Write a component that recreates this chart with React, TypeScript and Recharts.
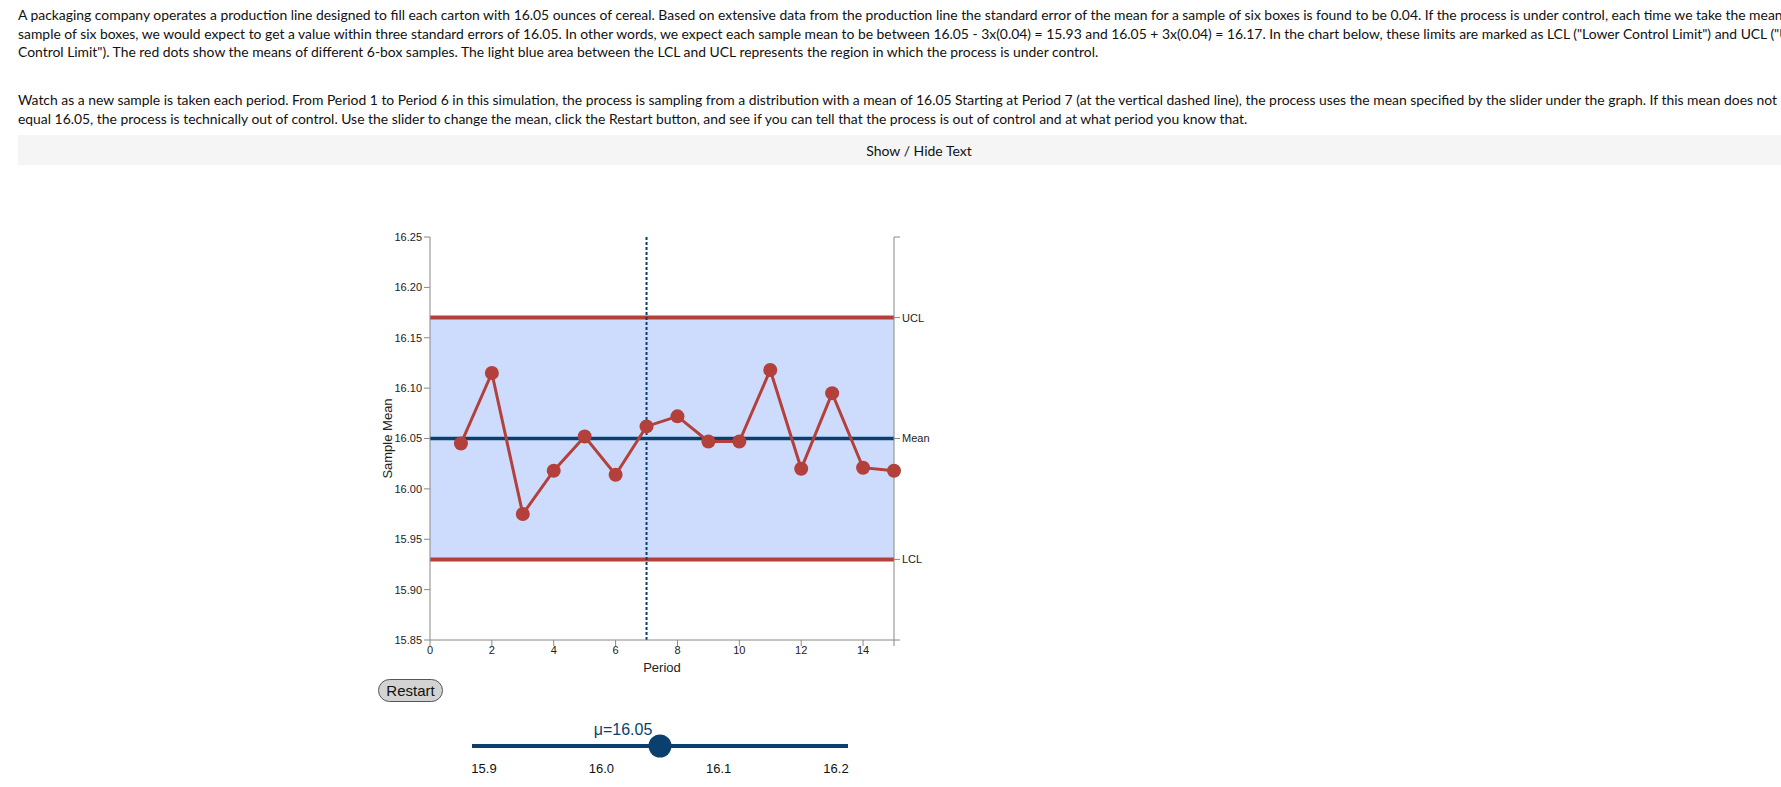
import React from 'react'
import {
  ComposedChart, Line, XAxis, YAxis, ReferenceArea, ReferenceLine,
} from 'recharts'

// periods and the sample means
const periods = [1, 2, 3, 4, 5, 6, 7, 8, 9, 10, 11, 12, 13, 14, 15]
const sampleMeans = [
  16.045, 16.115, 15.975, 16.018, 16.052, 16.014, 16.062, 16.072,
  16.047, 16.047, 16.118, 16.020, 16.095, 16.021, 16.018,
]
const xTicks = [0, 2, 4, 6, 8, 10, 12, 14, 15]
const yTicks = [15.85, 15.9, 15.95, 16.0, 16.05, 16.1, 16.15, 16.2, 16.25]
const limitNames = ['LCL', 'Mean', 'UCL']
const limitValues = [15.93, 16.05, 16.17]
const shiftPeriod = 7
const sliderTicks = [15.9, 16.0, 16.1, 16.2]
const sliderValue = 16.05

const RED = '#b3403b'
const NAVY = '#0b3f6e'
const AXIS = '#888'

const textLines1 = [
  'A packaging company operates a production line designed to fill each carton with 16.05 ounces of cereal. Based on extensive data from the production line the standard error of the mean for a sample of six boxes is found to be 0.04. If the process is under control, each time we take the mean of a',
  'sample of six boxes, we would expect to get a value within three standard errors of 16.05. In other words, we expect each sample mean to be between 16.05 - 3x(0.04) = 15.93 and 16.05 + 3x(0.04) = 16.17. In the chart below, these limits are marked as LCL ("Lower Control Limit") and UCL ("Upper',
  'Control Limit"). The red dots show the means of different 6-box samples. The light blue area between the LCL and UCL represents the region in which the process is under control.',
]
const textLines2 = [
  'Watch as a new sample is taken each period. From Period 1 to Period 6 in this simulation, the process is sampling from a distribution with a mean of 16.05 Starting at Period 7 (at the vertical dashed line), the process uses the mean specified by the slider under the graph. If this mean does not',
  'equal 16.05, the process is technically out of control. Use the slider to change the mean, click the Restart button, and see if you can tell that the process is out of control and at what period you know that.',
]

const data = periods.map((p, i) => ({ period: p, mean: sampleMeans[i] }))

const tickStyle = { fontSize: 11, fontFamily: 'Liberation Sans, Arial', fill: '#222' }

function Slider() {
  // slider geometry (ui widget, not chart data)
  const x0 = 484, x1 = 836
  const sx = (v: number) =>
    x0 + ((v - sliderTicks[0]) / (sliderTicks[sliderTicks.length - 1] - sliderTicks[0])) * (x1 - x0)
  return (
    <svg width={1781} height={787} style={{ position: 'absolute', left: 0, top: 0, pointerEvents: 'none' }}>
      <text x={623} y={735} textAnchor="middle" fontSize={16} fill={NAVY}
        fontFamily="Liberation Sans, Arial">μ={sliderValue.toFixed(2)}</text>
      <line x1={x0 - 12} x2={x1 + 12} y1={746} y2={746} stroke={NAVY} strokeWidth={4} />
      <circle cx={sx(sliderValue)} cy={746} r={11.5} fill={NAVY} />
      {sliderTicks.map(t => (
        <text key={t} x={sx(t)} y={773} textAnchor="middle" fontSize={13}
          fontFamily="Liberation Sans, Arial" fill="#111">{t.toFixed(1)}</text>
      ))}
    </svg>
  )
}

export default function App() {
  const para: React.CSSProperties = {
    position: 'absolute', left: 18, whiteSpace: 'nowrap',
    fontFamily: 'Lato, sans-serif', fontSize: 13.9, lineHeight: '18.7px', color: '#111',
  }
  return (
    <div style={{ position: 'absolute', left: 0, top: 0, width: 1781, height: 787, overflow: 'hidden', background: '#fff' }}>
      <div style={{ ...para, top: 6 }}>
        {textLines1.map((t, i) => <div key={i}>{t}</div>)}
      </div>
      <div style={{ ...para, top: 91 }}>
        {textLines2.map((t, i) => <div key={i}>{t}</div>)}
      </div>
      <div style={{
        position: 'absolute', left: 18, top: 135, width: 1802, height: 30, background: '#f5f5f5',
        fontFamily: 'Lato, sans-serif', fontSize: 14, lineHeight: '31px', textAlign: 'center', color: '#111',
      }}>
        Show / Hide Text
      </div>

      <div style={{ position: 'absolute', left: 300, top: 200 }}>
        <ComposedChart width={700} height={500} data={data}
          margin={{ top: 37, right: 46, bottom: 40, left: 70 }}>
          <ReferenceArea yAxisId="left" y1={limitValues[0]} y2={limitValues[2]}
            fill="#cddcfc" fillOpacity={1} stroke="none" />
          <XAxis dataKey="period" type="number" domain={[0, 15]} ticks={xTicks} interval={0}
            tickFormatter={(v: number) => (v === 15 ? '' : String(v))}
            height={20} tickSize={6} tickMargin={0}
            stroke={AXIS} tick={tickStyle}
            label={{ value: 'Period', position: 'bottom', offset: 3,
              style: { fontSize: 13, fontFamily: 'Liberation Sans, Arial', fill: '#222' } }} />
          <YAxis yAxisId="left" domain={[15.85, 16.25]} ticks={yTicks} interval={0}
            tickFormatter={(v: number) => v.toFixed(2)}
            width={60} tickSize={6} tickMargin={2} stroke={AXIS} tick={tickStyle}
            allowDataOverflow
            label={{ value: 'Sample Mean', angle: -90, position: 'insideLeft', offset: 17,
              style: { textAnchor: 'middle', fontSize: 13, fontFamily: 'Liberation Sans, Arial', fill: '#222' } }} />
          <YAxis yAxisId="right" orientation="right" domain={[15.85, 16.25]}
            ticks={[15.85, ...limitValues, 16.25]} interval={0}
            tickFormatter={(v: number) => {
              const i = limitValues.indexOf(v)
              return i >= 0 ? limitNames[i] : ''
            }}
            width={60} tickSize={6} tickMargin={2} stroke={AXIS} tick={tickStyle}
            allowDataOverflow />
          <ReferenceLine yAxisId="left" y={limitValues[2]} stroke={RED} strokeWidth={4} />
          <ReferenceLine yAxisId="left" y={limitValues[0]} stroke={RED} strokeWidth={4} />
          <ReferenceLine yAxisId="left" y={limitValues[1]} stroke={NAVY} strokeWidth={3.5} />
          <ReferenceLine yAxisId="left" x={shiftPeriod} stroke={NAVY} strokeWidth={2}
            strokeDasharray="3 2" />
          <Line yAxisId="left" dataKey="mean" stroke={RED} strokeWidth={3}
            dot={{ r: 7, fill: RED, stroke: 'none' }} activeDot={false}
            isAnimationActive={false} />
        </ComposedChart>
      </div>

      <button style={{
        position: 'absolute', left: 378, top: 679, width: 65, height: 23, borderRadius: 12,
        border: '1px solid #555', background: '#d3d3d3', fontFamily: 'Liberation Sans, Arial',
        fontSize: 15, padding: 0, color: '#111',
      }}>Restart</button>

      <Slider />
    </div>
  )
}
